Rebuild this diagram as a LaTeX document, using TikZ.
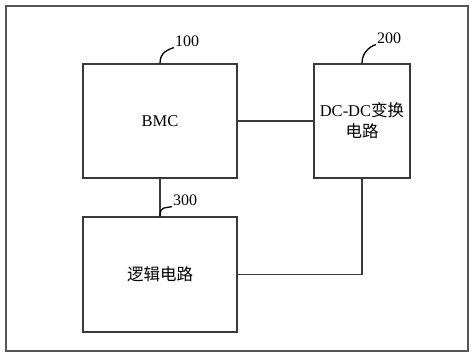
\documentclass[tikz,border=0pt]{standalone}
\usepackage{fontspec}
\setmainfont{Liberation Serif}
\newfontfamily\cjk{Noto Sans CJK SC}
\usetikzlibrary{positioning}
\definecolor{LineGray}{HTML}{3A3A3A}
\definecolor{FrameGray}{HTML}{555555}
\tikzset{
  block/.style={draw=LineGray, line width=1.4pt, minimum width=154pt, minimum height=114pt, inner sep=0pt, align=center, font=\fontsize{16.5}{20}\selectfont},
  tag/.style={inner sep=1pt, font=\fontsize{16}{19}\selectfont, text=black},
  wire/.style={draw=LineGray, line width=1.3pt},
  leader/.style={draw=black, line width=1.3pt}
}

\begin{document}
\begin{tikzpicture}[x=1pt, y=-1pt]
    \useasboundingbox (0,0) rectangle (474,358);
    \draw[FrameGray, line width=1.1pt] (6,6) rectangle (468,351);

    \node[block] (bmc) at (160,121) {BMC};
    \node[block, minimum width=96pt] (dcdc) at (362,121) {DC-DC{\cjk 变换}\\[1pt]{\cjk 电路}};
    \node[block, minimum height=115pt] (logic) at (160,274.5) {{\cjk 逻辑电路}};

    \node[tag] (t100) at (187,41) {100};
    \node[tag] (t200) at (389,38) {200};
    \node[tag] (t300) at (185,200) {300};

    \draw[wire] (bmc) -- (dcdc);
    \draw[wire] (bmc) -- (logic);
    \draw[wire] (dcdc.south) |- (logic.east);

    \draw[leader] (bmc.north) .. controls +(0,-11) and +(-6,2) .. (t100.south west);
    \draw[leader] (dcdc.north) .. controls +(0,-11) and +(-6,2) .. (t200.south west);
    \draw[leader] (logic.north) .. controls +(0,-11) and +(-6,2) .. (t300.south west);
\end{tikzpicture}
\end{document}
